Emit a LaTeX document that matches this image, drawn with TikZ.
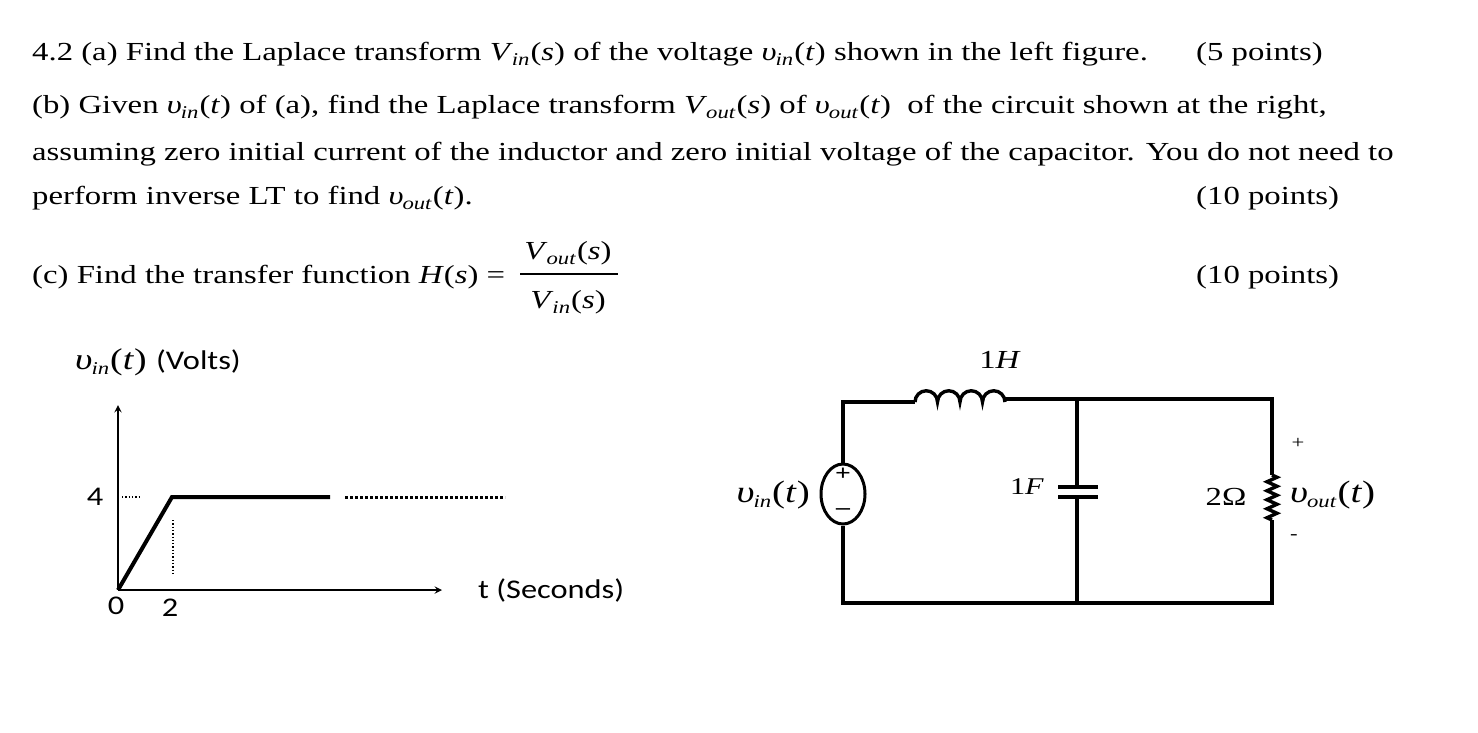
\documentclass[tikz,border=0pt]{standalone}
\usepackage{fontspec}
\setmainfont[FakeStretch=1.26]{Liberation Serif}
\newfontfamily\lab[FakeStretch=1.2]{Carlito}
\usetikzlibrary{decorations.pathmorphing,shapes.geometric}
\tikzset{x=1pt,y=-1pt,
 tx/.style={anchor=base west,inner sep=0pt,font=\fontsize{26}{30}\selectfont},
 lb/.style={inner sep=0pt,font=\lab\fontsize{27}{30}\selectfont},
 wire/.style={line width=3.4pt},
 axisline/.style={line width=2.2pt},
}
\newcommand{\vv}[1]{\textit{υ}\kern-1pt\raisebox{-5pt}{\fontsize{18}{20}\selectfont\textit{#1}}\kern1pt(\textit{t})}
\newcommand{\VV}[1]{\textit{V}\kern-1pt\raisebox{-5pt}{\fontsize{18}{20}\selectfont\textit{#1}}\kern1pt(\textit{s})}
\begin{document}
\begin{tikzpicture}
\useasboundingbox (0,0) rectangle (1478,732);
\node[tx] (l1) at (32,60) {4.2 (a) Find the Laplace transform \VV{in} of the voltage \vv{in} shown in the left figure.};
\node[tx] (p1) at (1196,60) {(5 points)};
\node[tx] (l2) at (32,113) {(b) Given \vv{in} of (a), find the Laplace transform \VV{out} of \vv{out}\ \ of the circuit shown at the right,};
\node[tx] (l3) at (32,160) {assuming zero initial current of the inductor and zero initial voltage of the capacitor. You do not need to};
\node[tx] (l4) at (32,204) {perform inverse LT to find \vv{out}.};
\node[tx] (p2) at (1196,204) {(10 points)};
\node[tx] (l5) at (32,283) {(c) Find the transfer function \textit{H}(\textit{s}) =};
\node[tx] (p3) at (1196,283) {(10 points)};
\node[inner sep=0pt,font=\fontsize{26}{30}\selectfont] (num) at (568,253) {\VV{out}};
\node[inner sep=0pt,font=\fontsize{26}{30}\selectfont] (den) at (568,302) {\VV{in}};
\draw[line width=1.2pt] (520,274) -- (618,274);
% graph
\coordinate (O) at (118,590);
\coordinate (Y) at (118,405);
\coordinate (X) at (442,590);
\coordinate (P) at (172,497);
\coordinate (Q) at (330,497);
\draw[axisline,-stealth] (O) -- (Y);
\draw[axisline,-stealth] (O) -- (X);
\draw[line width=4pt] (O) -- (P) -- (Q);
\draw[line width=3pt,dotted] (345,497) -- (505,497);
\draw[line width=1.3pt,dotted] (122,497) -- (140,497);
\draw[line width=1.3pt,dotted] (173,520) -- (173,575);
\node[lb] (n4) at (95,497) {4};
\node[lb] (n0) at (116,606) {0};
\node[lb] (n2) at (170,608) {2};
\node[lb,anchor=west] (ts) at (478,590) {t (Seconds)};
\node[lb,anchor=west,font=\fontsize{30}{30}\selectfont] (vl) at (75,362) {\vv{in} {\lab\fontsize{27}{30}\selectfont(Volts)}};
% circuit
\coordinate (a) at (843,402);
\coordinate (b) at (915,402);
\coordinate (c) at (1005,399);
\coordinate (d) at (1077,399);
\coordinate (e) at (1272,399);
\coordinate (f) at (1272,603);
\coordinate (g) at (1077,603);
\coordinate (h) at (843,603);
\node[ellipse,draw,line width=3pt,minimum width=44pt,minimum height=60pt,inner sep=0pt] (src) at (843,494) {};
\node[font=\bfseries\fontsize{22}{20}\selectfont] at (843,474) {+};
\node[font=\bfseries\fontsize{22}{20}\selectfont] at (843,512) {--};
\draw[wire] (src.north) -- (a) -- (b);
\draw[wire] (b) arc[start angle=180,end angle=360,radius=11.25] arc[start angle=180,end angle=360,radius=11.25] arc[start angle=180,end angle=360,radius=11.25] arc[start angle=180,end angle=360,radius=11.25];
\draw[wire] (c) -- (d) -- (e) -- (1272,475);
\draw[wire,decorate,decoration={zigzag,segment length=9pt,amplitude=5pt}] (1272,475) -- (1272,520);
\draw[wire] (1272,520) -- (f) -- (g) -- (h) -- (src.south);
\draw[wire] (d) -- (1077,487);
\draw[wire] (1058,487) -- (1098,487);
\draw[wire] (1058,497) -- (1098,497);
\draw[wire] (1077,497) -- (g);
\node[inner sep=0pt,font=\fontsize{26}{30}\selectfont] (lH) at (1000,360) {1\textit{H}};
\node[inner sep=0pt,font=\fontsize{24}{30}\selectfont] (lF) at (1027,487) {1\textit{F}};
\node[inner sep=0pt,font=\fontsize{26}{30}\selectfont] (lR) at (1226,497) {2Ω};
\node[inner sep=0pt,font=\fontsize{18}{20}\selectfont] (pl) at (1298,443) {+};
\node[inner sep=0pt,font=\fontsize{18}{20}\selectfont] (mi) at (1294,537) {-};
\node[inner sep=0pt,font=\fontsize{31}{30}\selectfont,anchor=west] (vo) at (1290,495) {\vv{out}};
\node[inner sep=0pt,font=\fontsize{31}{30}\selectfont,anchor=east] (vi) at (810,495) {\vv{in}};
\end{tikzpicture}
\end{document}
